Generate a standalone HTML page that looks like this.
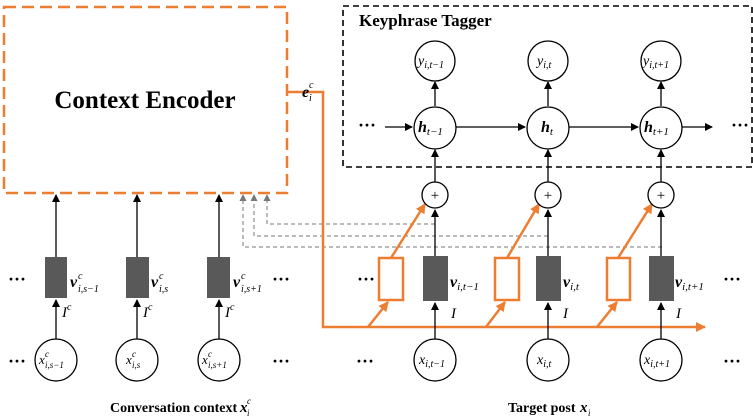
<!DOCTYPE html>
<html><head><meta charset="utf-8"><style>
html,body{margin:0;padding:0;background:#fff;}
svg{display:block;font-family:"Liberation Serif",serif;}
.it{font-style:italic;}
.b{font-weight:bold;}
</style></head><body>
<svg width="753" height="417" viewBox="0 0 753 417" xmlns="http://www.w3.org/2000/svg">
<defs>
<marker id="ab" markerWidth="8" markerHeight="8" refX="7" refY="4" orient="auto" markerUnits="userSpaceOnUse"><path d="M0,0 L8,4 L0,8 z" fill="#000"/></marker>
<marker id="ag" markerWidth="7" markerHeight="7" refX="6" refY="3.5" orient="auto" markerUnits="userSpaceOnUse"><path d="M0,0 L7,3.5 L0,7 z" fill="#777"/></marker>
<marker id="ao" markerWidth="10" markerHeight="10" refX="9" refY="5" orient="auto" markerUnits="userSpaceOnUse"><path d="M0,0 L10,5 L0,10 z" fill="#ED7D31"/></marker>
</defs>

<rect x="4" y="7" width="283" height="186" fill="none" stroke="#ED7D31" stroke-width="2.5" stroke-dasharray="12,6"/>
<text x="145" y="108" font-size="25" font-weight="bold" text-anchor="middle">Context Encoder</text>

<rect x="343" y="6" width="409" height="161" fill="none" stroke="#000" stroke-width="1.6" stroke-dasharray="6,4"/>
<text x="359" y="26" font-size="17" font-weight="bold">Keyphrase Tagger</text>

<g fill="none" stroke="#777" stroke-width="1" stroke-dasharray="4,3">
<path d="M662,247 H243 V195" marker-end="url(#ag)"/>
<path d="M548,236 H254 V195" marker-end="url(#ag)"/>
<path d="M435,224 H267 V195" marker-end="url(#ag)"/>
</g>

<g stroke="#000" stroke-width="1.3" fill="none">
<path d="M56,339 V300" marker-end="url(#ab)"/><path d="M56,257 V195" marker-end="url(#ab)"/>
<path d="M137,339 V300" marker-end="url(#ab)"/><path d="M137,257 V195" marker-end="url(#ab)"/>
<path d="M219,339 V300" marker-end="url(#ab)"/><path d="M219,257 V195" marker-end="url(#ab)"/>
<circle cx="56" cy="360" r="21" fill="#fff"/>
<circle cx="137" cy="360" r="21" fill="#fff"/>
<circle cx="219" cy="360" r="21" fill="#fff"/>
</g>
<rect x="45" y="257" width="22" height="41" fill="#595959"/>
<rect x="126" y="257" width="23" height="41" fill="#595959"/>
<rect x="207" y="257" width="23" height="41" fill="#595959"/>

<g class="it">
<text x="70" y="287" font-size="16" class="b">v</text><text x="78" y="292" font-size="10">i,s−1</text><text x="78" y="279" font-size="10">c</text>
<text x="151" y="287" font-size="16" class="b">v</text><text x="159" y="292" font-size="10">i,s</text><text x="159" y="279" font-size="10">c</text>
<text x="233" y="287" font-size="16" class="b">v</text><text x="241" y="292" font-size="10">i,s+1</text><text x="241" y="279" font-size="10">c</text>
<text x="62" y="317" font-size="15">I</text><text x="67" y="310" font-size="10">c</text>
<text x="143" y="317" font-size="15">I</text><text x="148" y="310" font-size="10">c</text>
<text x="225" y="317" font-size="15">I</text><text x="230" y="310" font-size="10">c</text>
<text x="39" y="364" font-size="13">x</text><text x="45" y="368" font-size="9">i,s−1</text><text x="45" y="357" font-size="9">c</text>
<text x="126" y="364" font-size="13">x</text><text x="132" y="368" font-size="9">i,s</text><text x="132" y="357" font-size="9">c</text>
<text x="202" y="364" font-size="13">x</text><text x="208" y="368" font-size="9">i,s+1</text><text x="208" y="357" font-size="9">c</text>
</g>
<g font-size="18" font-weight="bold">
<text x="8" y="285">···</text><text x="8" y="367">···</text>
<text x="272" y="285">···</text><text x="272" y="367">···</text>
<text x="358" y="131">···</text><text x="731" y="131">···</text>
<text x="357" y="285">···</text><text x="356" y="367">···</text>
<text x="723" y="285">···</text><text x="723" y="367">···</text>
</g>
<text x="110" y="412" font-size="14" font-weight="bold">Conversation context</text>
<text x="240" y="412" font-size="15" class="it b">x</text><text x="247" y="416" font-size="9" class="it">i</text><text x="247" y="404" font-size="9" class="it">c</text>

<g fill="none" stroke="#ED7D31" stroke-width="2.5">
<path d="M287,92 H323 V327 H705" marker-end="url(#ao)"/>
<path d="M368,327 L388,302" marker-end="url(#ao)"/>
<path d="M391,258 L425,204" marker-end="url(#ao)"/>
<path d="M486,327 L505,302" marker-end="url(#ao)"/>
<path d="M507,258 L539,204" marker-end="url(#ao)"/>
<path d="M597,327 L617,302" marker-end="url(#ao)"/>
<path d="M618,258 L652,204" marker-end="url(#ao)"/>
<rect x="379" y="258" width="24" height="42"/>
<rect x="495" y="258" width="24" height="42"/>
<rect x="607" y="258" width="23" height="42"/>
</g>
<text x="302" y="97" font-size="16" class="it b">e</text><text x="309" y="101" font-size="10" class="it">i</text><text x="309" y="88" font-size="10" class="it">c</text>

<g stroke="#000" stroke-width="1.3" fill="none">
<path d="M385,127 H412" marker-end="url(#ab)"/>
<path d="M456,127 H525" marker-end="url(#ab)"/>
<path d="M569,127 H638" marker-end="url(#ab)"/>
<path d="M682,127 H712" marker-end="url(#ab)"/>
<path d="M435,106 V82" marker-end="url(#ab)"/>
<path d="M548,106 V82" marker-end="url(#ab)"/>
<path d="M661,106 V82" marker-end="url(#ab)"/>
<path d="M435,182 V150" marker-end="url(#ab)"/>
<path d="M548,182 V150" marker-end="url(#ab)"/>
<path d="M661,182 V150" marker-end="url(#ab)"/>
<path d="M435,256 V210" marker-end="url(#ab)"/>
<path d="M548,256 V210" marker-end="url(#ab)"/>
<path d="M661,256 V210" marker-end="url(#ab)"/>
<path d="M435,339 V303" marker-end="url(#ab)"/>
<path d="M548,339 V303" marker-end="url(#ab)"/>
<path d="M661,339 V303" marker-end="url(#ab)"/>
<circle cx="435" cy="61" r="20" fill="#fff"/><circle cx="548" cy="61" r="20" fill="#fff"/><circle cx="661" cy="61" r="20" fill="#fff"/>
<circle cx="435" cy="128" r="21" fill="#fff"/><circle cx="548" cy="128" r="21" fill="#fff"/><circle cx="661" cy="128" r="21" fill="#fff"/>
<circle cx="435" cy="195" r="13" fill="#fff"/><circle cx="548" cy="195" r="13" fill="#fff"/><circle cx="661" cy="195" r="13" fill="#fff"/>
<circle cx="435" cy="360" r="21" fill="#fff"/><circle cx="548" cy="360" r="21" fill="#fff"/><circle cx="661" cy="360" r="21" fill="#fff"/>
</g>
<rect x="423" y="256" width="25" height="45" fill="#595959"/>
<rect x="536" y="256" width="25" height="45" fill="#595959"/>
<rect x="649" y="256" width="25" height="45" fill="#595959"/>
<g font-size="15" text-anchor="middle">
<text x="435" y="200">+</text><text x="548" y="200">+</text><text x="661" y="200">+</text>
</g>
<g font-size="14" class="it">
<text x="418" y="65">y<tspan font-size="10" dy="3">i,t−1</tspan></text>
<text x="537" y="65">y<tspan font-size="10" dy="3">i,t</tspan></text>
<text x="643" y="65">y<tspan font-size="10" dy="3">i,t+1</tspan></text>
<text x="418" y="132" font-weight="bold" font-size="16">h<tspan font-size="11" dy="3" font-weight="normal">t−1</tspan></text>
<text x="541" y="132" font-weight="bold" font-size="16">h<tspan font-size="11" dy="3" font-weight="normal">t</tspan></text>
<text x="644" y="132" font-weight="bold" font-size="16">h<tspan font-size="11" dy="3" font-weight="normal">t+1</tspan></text>
<text x="419" y="364">x<tspan font-size="10" dy="3">i,t−1</tspan></text>
<text x="537" y="364">x<tspan font-size="10" dy="3">i,t</tspan></text>
<text x="644" y="364">x<tspan font-size="10" dy="3">i,t+1</tspan></text>
<text x="450" y="287" font-weight="bold" font-size="16">v<tspan font-size="11" dy="3" font-weight="normal">i,t−1</tspan></text>
<text x="563" y="287" font-weight="bold" font-size="16">v<tspan font-size="11" dy="3" font-weight="normal">i,t</tspan></text>
<text x="675" y="287" font-weight="bold" font-size="16">v<tspan font-size="11" dy="3" font-weight="normal">i,t+1</tspan></text>
<text x="451" y="318" font-size="15">I</text>
<text x="563" y="318" font-size="15">I</text>
<text x="676" y="318" font-size="15">I</text>
</g>
<text x="508" y="412" font-size="14" font-weight="bold">Target post</text>
<text x="580" y="412" font-size="15" class="it b">x</text><text x="588" y="416" font-size="9" class="it">i</text>
</svg>
</body></html>
